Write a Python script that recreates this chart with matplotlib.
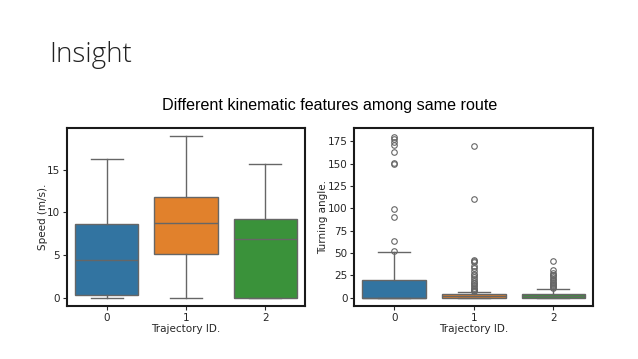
import numpy as np
import matplotlib.pyplot as plt

# Trajectory IDs
traj_ids = [0, 1, 2]
box_colors = ['#3274a1', '#e1812c', '#3a923a']

# Speed (m/s) box stats per trajectory
speed_low = [0.0, 0.0, 0.0]
speed_q1 = [0.3, 5.1, 0.0]
speed_med = [4.4, 8.8, 6.9]
speed_q3 = [8.6, 11.8, 9.2]
speed_high = [16.2, 18.9, 15.7]

# Turning angle box stats per trajectory
turn_low = [0.0, 0.0, 0.0]
turn_q1 = [0.0, 0.2, 0.2]
turn_med = [0.3, 1.5, 1.8]
turn_q3 = [20.3, 3.8, 4.8]
turn_high = [51.0, 6.4, 10.1]
turn_fliers_0 = [180, 177, 174, 171, 163, 151, 150, 99, 90, 64, 52.5]
turn_fliers_1 = [170, 110, 42, 41, 40, 36, 33, 30, 27, 25, 23, 21, 19, 17,
                 16, 14, 13, 11, 10, 9, 8, 7.5]
turn_fliers_2 = [41, 31, 28, 26, 25, 23, 21, 20, 18, 17, 15, 14, 13, 12, 11]
turn_fliers = [turn_fliers_0, turn_fliers_1, turn_fliers_2]

line_col = '#666666'
text_col = '#262626'


def make_stats(low, q1, med, q3, high, fliers=None):
    stats = []
    for i in range(len(low)):
        stats.append({'whislo': low[i], 'q1': q1[i], 'med': med[i],
                      'q3': q3[i], 'whishi': high[i],
                      'fliers': fliers[i] if fliers else []})
    return stats


def draw_box(ax, stats):
    bp = ax.bxp(stats, positions=traj_ids, widths=0.8, patch_artist=True,
                boxprops=dict(edgecolor=line_col, linewidth=1.0),
                whiskerprops=dict(color=line_col, linewidth=1.0),
                capprops=dict(color=line_col, linewidth=1.0),
                medianprops=dict(color=line_col, linewidth=1.0),
                flierprops=dict(marker='o', markerfacecolor='none',
                                markeredgecolor=line_col, markersize=4,
                                markeredgewidth=0.8))
    for patch, c in zip(bp['boxes'], box_colors):
        patch.set_facecolor(c)
    ax.set_xlim(-0.5, 2.5)
    ax.set_xticks(traj_ids)
    ax.set_xticklabels([str(t) for t in traj_ids])
    ax.tick_params(labelsize=7.5, length=3, width=0.8, pad=2,
                   labelcolor=text_col, color=text_col)
    for s in ax.spines.values():
        s.set_linewidth(1.5)
        s.set_color('#1a1a1a')
    ax.set_xlabel('Trajectory ID.', fontsize=7.5, labelpad=1, color=text_col)


fig = plt.figure(figsize=(6.38, 3.59), dpi=100)

fig.text(0.077, 0.826, 'Insight', fontsize=20, family='Open Sans',
         weight='light', color='#222222', va='baseline')
fig.text(0.517, 0.694, 'Different kinematic features among same route',
         fontsize=11.6, family='Liberation Sans', ha='center', va='baseline')

ax1 = fig.add_axes([0.105, 0.148, 0.373, 0.496])
draw_box(ax1, make_stats(speed_low, speed_q1, speed_med, speed_q3, speed_high))
ax1.set_ylim(-0.95, 19.9)
ax1.set_yticks([0, 5, 10, 15])
ax1.set_ylabel('Speed (m/s).', fontsize=7.5, labelpad=-1, color=text_col)

ax2 = fig.add_axes([0.5556, 0.148, 0.374, 0.496])
draw_box(ax2, make_stats(turn_low, turn_q1, turn_med, turn_q3, turn_high,
                         turn_fliers))
ax2.set_ylim(-9, 190)
ax2.set_yticks(np.arange(0, 176, 25))
ax2.set_ylabel('Turning angle.', fontsize=7.5, labelpad=0, color=text_col)

fig.savefig('out.png', dpi=100)
